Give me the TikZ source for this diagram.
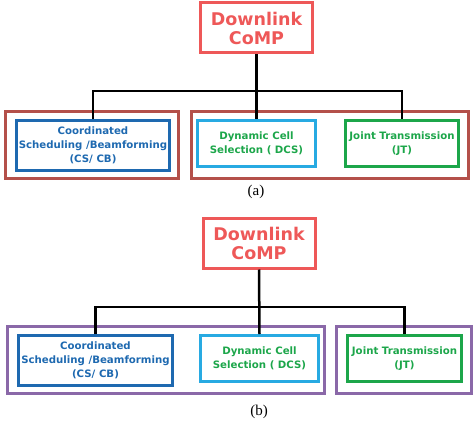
\documentclass[tikz,border=0pt]{standalone}
\usepackage{fontspec}
\newfontfamily\boxfont{DejaVu Sans}
\newfontfamily\capfont{Liberation Serif}
\definecolor{comp red}{RGB}{238,88,88}
\definecolor{group red}{RGB}{180,80,74}
\definecolor{group purple}{RGB}{138,104,168}
\definecolor{cs blue}{RGB}{30,105,176}
\definecolor{dcs cyan}{RGB}{40,170,226}
\definecolor{jt green}{RGB}{28,166,74}
\begin{document}
\begin{tikzpicture}[x = 1pt, y = -1pt,
  box/.style = {draw, line width = 3pt, inner sep = 0pt, align = center,
    font = \boxfont\bfseries\fontsize{10.2}{14}\selectfont},
  topbox/.style = {box, draw = comp red, text = comp red,
    minimum width = 112pt, minimum height = 50pt,
    font = \boxfont\bfseries\fontsize{17.5}{19}\selectfont},
  group/.style = {draw, line width = 3pt, minimum height = 67pt},
  link/.style = {line width = 2.5pt}]
  \useasboundingbox (0, 0) rectangle (474, 444);

  % (a)
  \node[topbox] (topA) at (256.5, 28) {Downlink\\CoMP};
  \node[group, draw = group red, minimum width = 173pt] (grpA1) at (92, 145) {};
  \node[group, draw = group red, minimum width = 277pt] (grpA2) at (330, 145) {};
  \node[box, draw = cs blue, text = cs blue, minimum width = 153pt,
  minimum height = 50pt] (cscbA) at (93, 145.5)
  {Coordinated\\Scheduling /Beamforming\\(CS/ CB)};
  \node[box, draw = dcs cyan, text = jt green, minimum width = 118pt,
  minimum height = 46pt] (dcsA) at (256.5, 143.5) {Dynamic Cell\\Selection ( DCS)};
  \node[box, draw = jt green, text = jt green, minimum width = 113pt,
  minimum height = 46pt] (jtA) at (402, 143.5) {Joint Transmission\\(JT)};
  \coordinate (busA) at (256.5, 91);
  \draw[link] (topA.south) -- (dcsA.north);
  \draw[link] (cscbA.north) |- (busA) -| (jtA.north);
  \node[font = \capfont\fontsize{15}{17}\selectfont] (capA) at (256, 192) {(a)};

  % (b)
  \node[topbox] (topB) at (259, 243) {Downlink\\CoMP};
  \node[group, draw = group purple, minimum width = 317pt] (grpB1) at (166, 360) {};
  \node[group, draw = group purple, minimum width = 135pt] (grpB2) at (404, 360) {};
  \node[box, draw = cs blue, text = cs blue, minimum width = 154pt,
  minimum height = 50pt] (cscbB) at (95.5, 360.5)
  {Coordinated\\Scheduling /Beamforming\\(CS/ CB)};
  \node[box, draw = dcs cyan, text = jt green, minimum width = 118pt,
  minimum height = 46pt] (dcsB) at (259.5, 358.5) {Dynamic Cell\\Selection ( DCS)};
  \node[box, draw = jt green, text = jt green, minimum width = 114pt,
  minimum height = 46pt] (jtB) at (404.5, 358.5) {Joint Transmission\\(JT)};
  \coordinate (busB) at (259.5, 307);
  \draw[link] (topB.south) -- (dcsB.north);
  \draw[link] (cscbB.north) |- (busB) -| (jtB.north);
  \node[font = \capfont\fontsize{15}{17}\selectfont] (capB) at (259, 412) {(b)};
\end{tikzpicture}
\end{document}
